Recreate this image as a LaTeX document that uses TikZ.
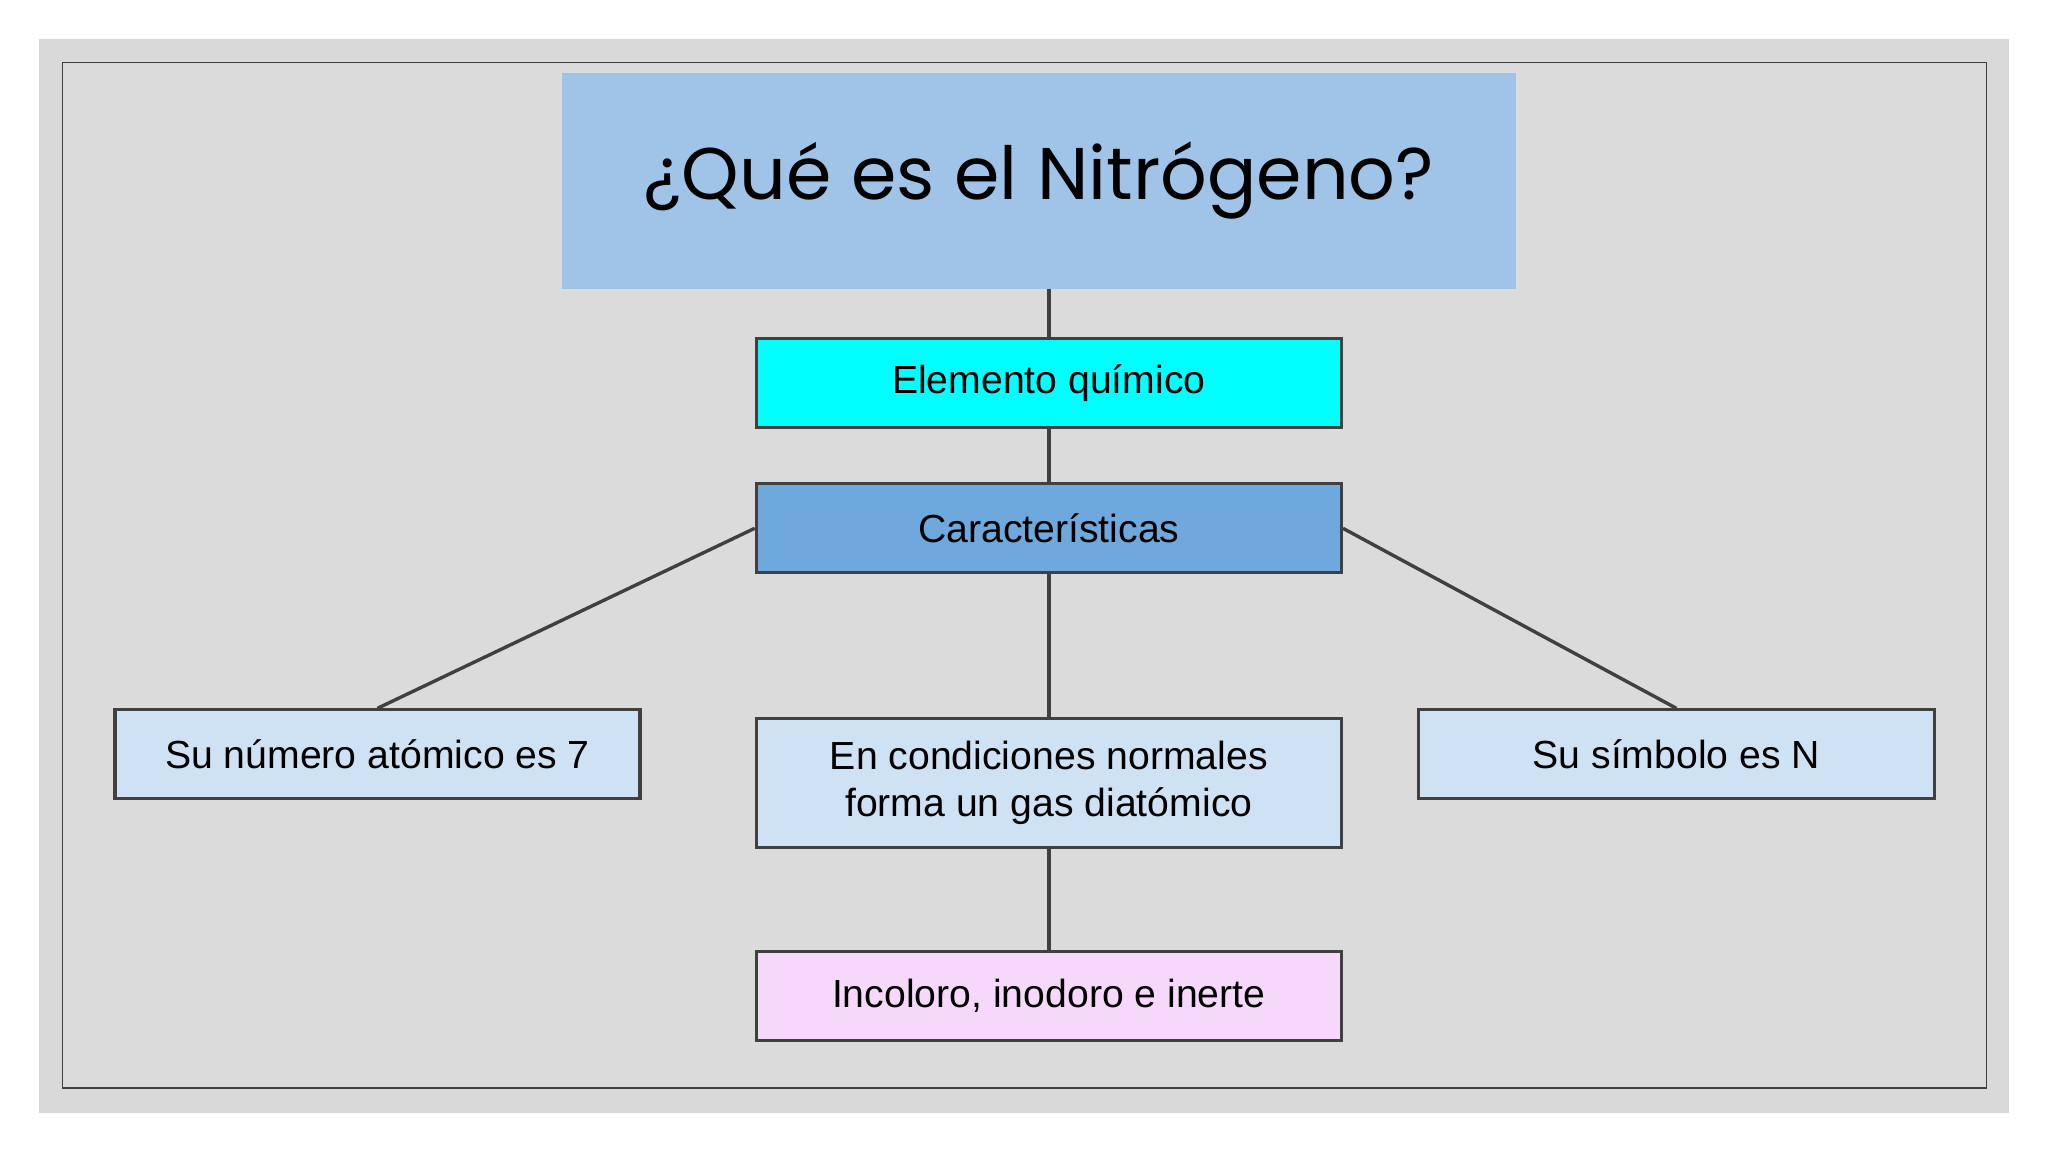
\documentclass[tikz,border=0pt]{standalone}
\usepackage{fontspec}
\setmainfont{Liberation Sans}
\newfontfamily\titlefont{Poppins}
\definecolor{cyanbox}{RGB}{0,255,255}
\begin{document}
\begin{tikzpicture}[x=1pt,y=-1pt,
  box/.style={draw=black!75,line width=2.4pt,minimum width=448pt,minimum height=68pt,font=\fontsize{30}{36}\selectfont,align=center},
  conn/.style={draw=black!75,line width=2.6pt}]
\useasboundingbox (0,0) rectangle (1568,882);
\fill[white] (0,0) rectangle (1568,882);
\fill[black!15] (30,30) rectangle (1538,852);
\draw[fill=black!14,draw=black!75,line width=1.2pt] (48,48) rectangle (1521,833);
\node[fill={rgb,255:red,160;green,196;blue,232},minimum width=731pt,minimum height=165pt,font=\titlefont\fontsize{56}{64}\selectfont] (t) at (795.5,138.5) {¿Qué es el Nitrógeno?};
\node[box,fill=cyanbox] (e) at (803,293) {Elemento químico};
\node[box,fill={rgb,255:red,111;green,168;blue,220}] (c) at (803,404.5) {Características};
\node[box,fill={rgb,255:red,207;green,226;blue,243},minimum width=402pt] (l) at (289,577.5) {Su número atómico es 7};
\node[box,fill={rgb,255:red,207;green,226;blue,243},minimum height=99pt] (m) at (803,599.5) {En condiciones normales\\forma un gas diatómico};
\node[box,fill={rgb,255:red,207;green,226;blue,243},minimum width=395pt] (r) at (1283.5,577.5) {Su símbolo es N};
\node[box,fill={rgb,255:red,246;green,216;blue,251}] (b) at (803,762.5) {Incoloro, inodoro e inerte};
\draw[conn] (e.north |- t.south) -- (e.north);
\draw[conn] (e) -- (c);
\draw[conn] (c.west) -- (l.north);
\draw[conn] (c.east) -- (r.north);
\draw[conn] (c) -- (m);
\draw[conn] (m) -- (b);
\end{tikzpicture}
\end{document}
